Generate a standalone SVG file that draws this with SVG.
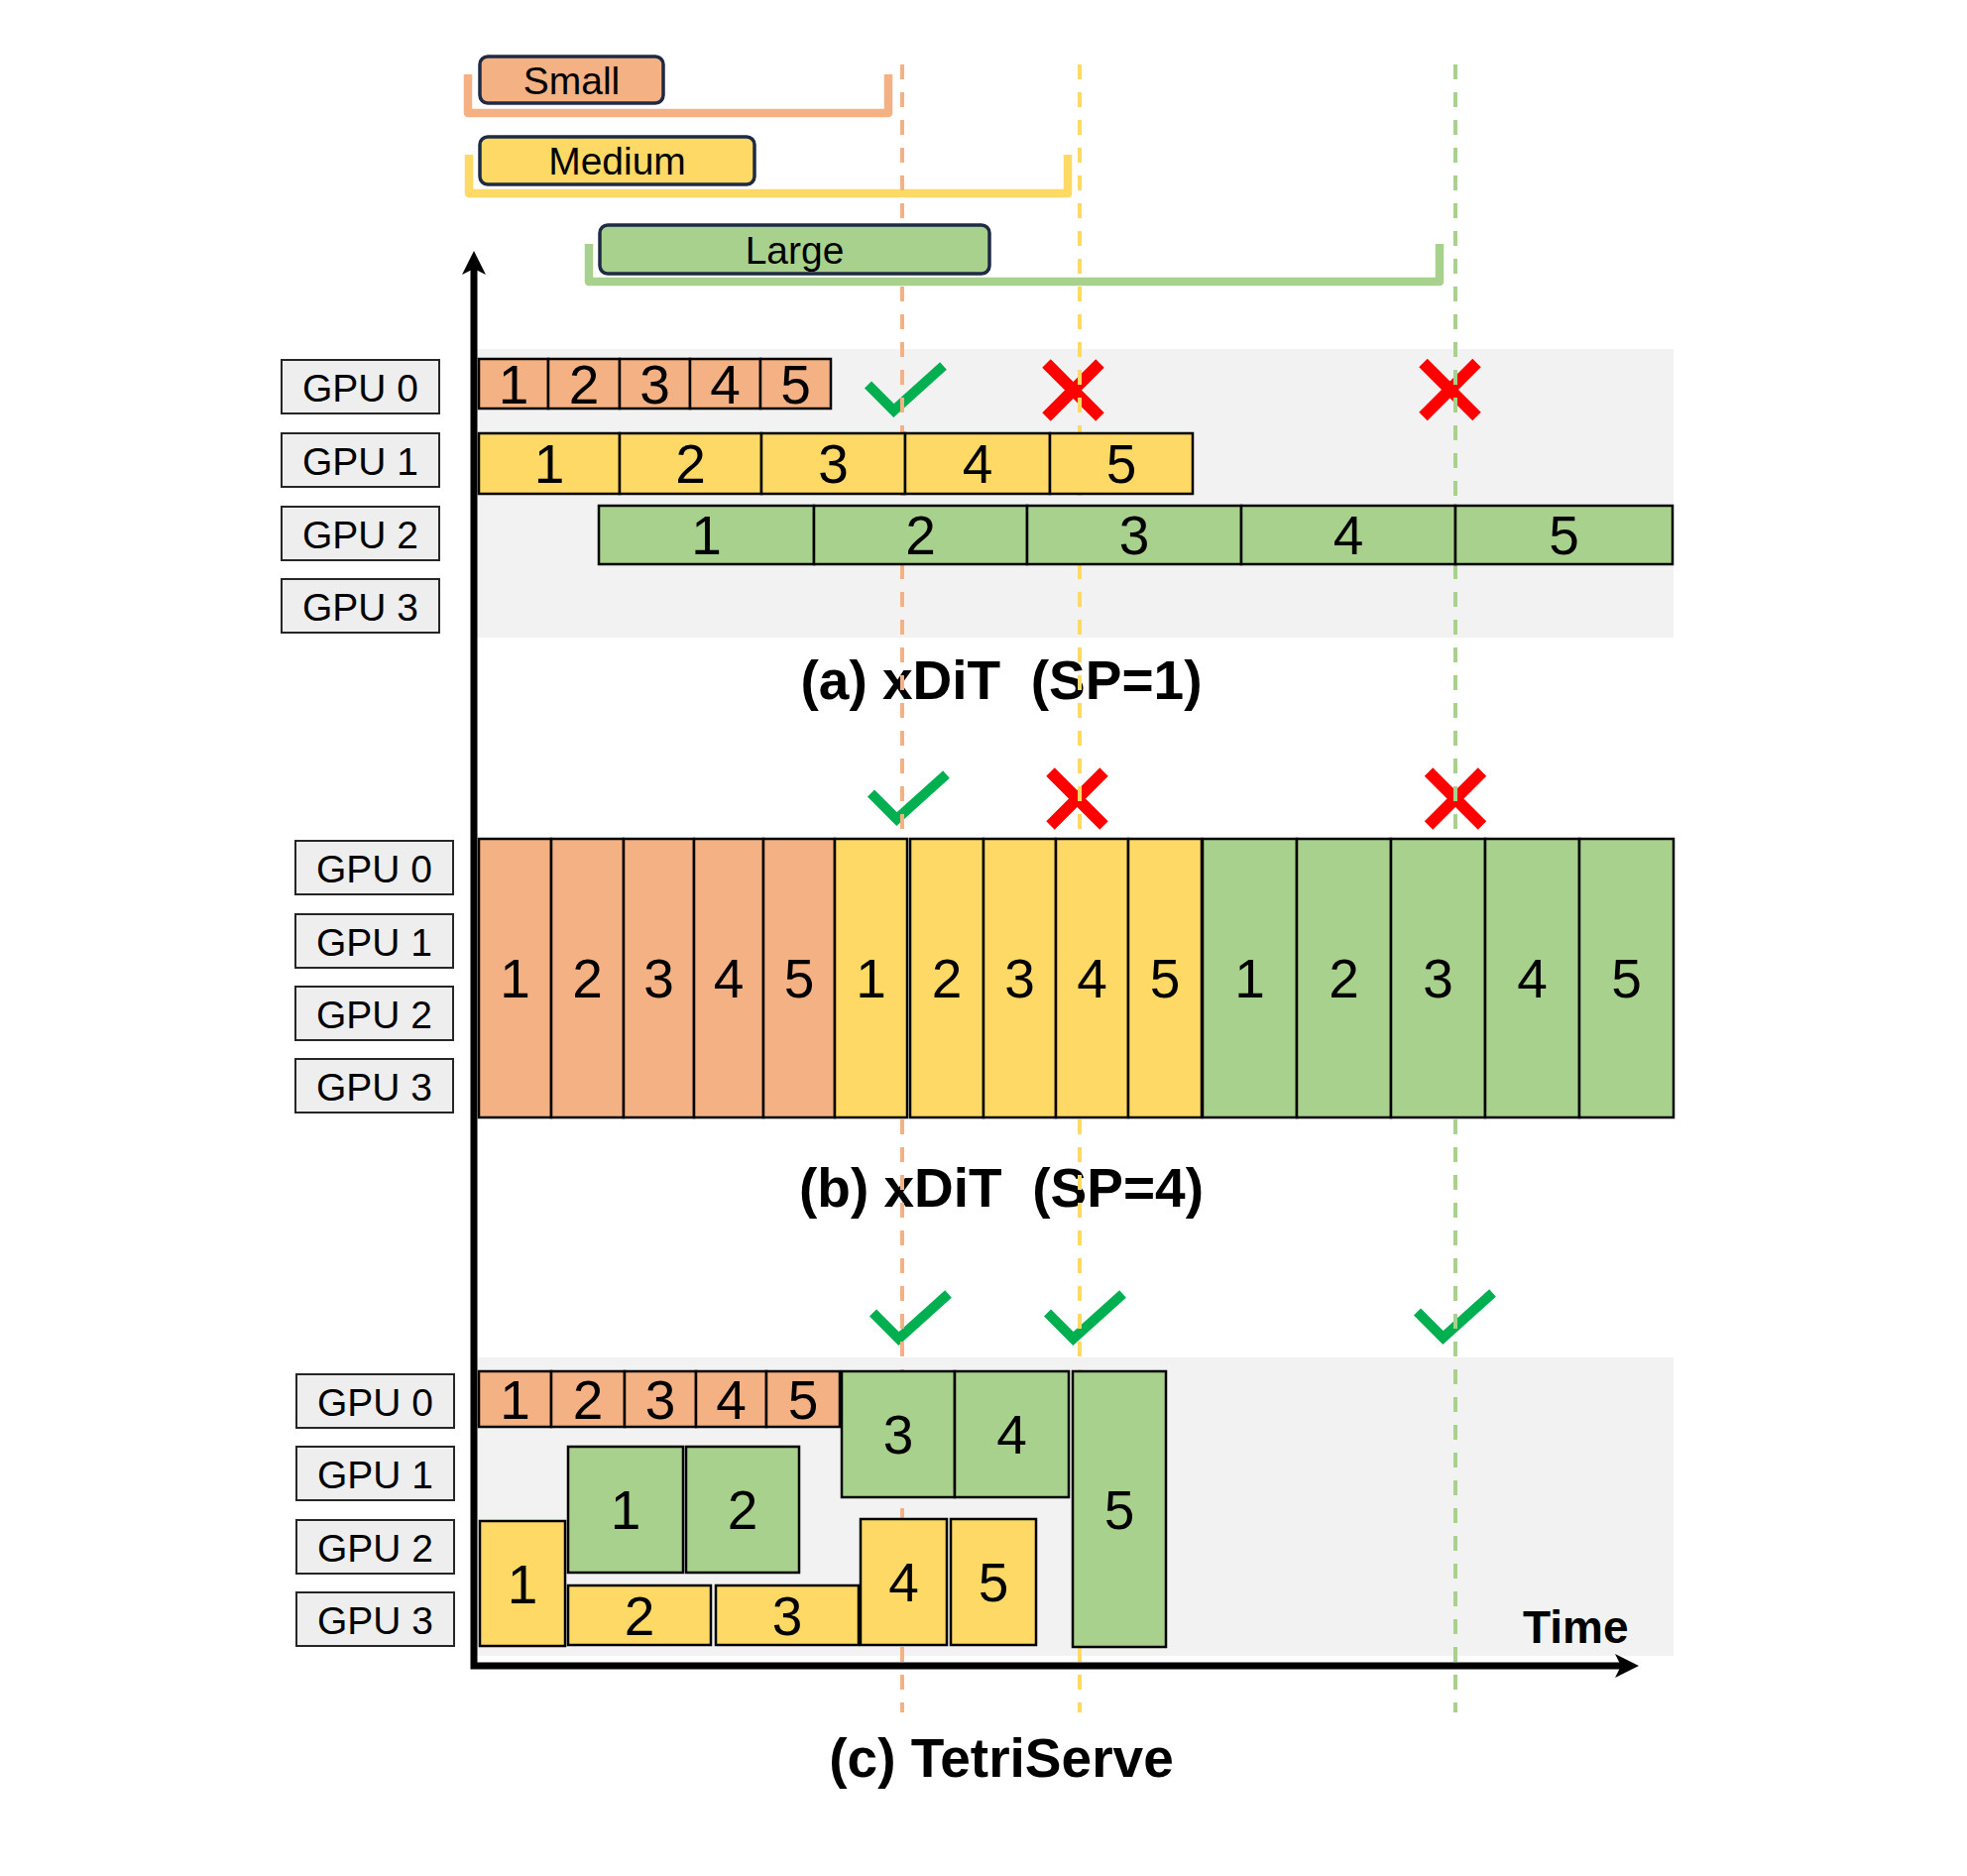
<svg xmlns="http://www.w3.org/2000/svg" width="1984" height="1892" viewBox="0 0 1984 1892">
<defs>
<style>
text { font-family: "Liberation Sans", Arial, sans-serif; fill:#000; }
.bg { fill:#F2F2F2; }
.gpu rect { fill:#EEEEEE; stroke:#262626; stroke-width:2; }
.gpu text { font-size:39px; text-anchor:middle; }
.o { fill:#F4B183; } .y { fill:#FFD966; } .g { fill:#A9D18E; }
.blk rect { stroke:#000; stroke-width:2.5; }
.blk text { font-size:55px; text-anchor:middle; }
.tag rect { stroke:#1F2A44; stroke-width:3.5; }
.tag text { font-size:39px; text-anchor:middle; }
.title { font-size:55px; font-weight:bold; text-anchor:middle; white-space:pre; }
.time { font-size:46px; font-weight:bold; }
.brk { fill:none; stroke-width:8.5; stroke-linejoin:round; }
.dash { fill:none; stroke-width:4; stroke-dasharray:15 13; }
.chk { fill:none; stroke:#00B050; stroke-width:10; stroke-linejoin:miter; }
.xm { fill:none; stroke:#FF0000; stroke-width:12; }
.axis { fill:none; stroke:#000; stroke-width:7; stroke-linejoin:miter; }
</style>
<path id="check" class="chk" d="M0,0 l26,26 l50,-45"/>
<path id="cross" class="xm" d="M-27,-27 L27,27 M-27,27 L27,-27"/>
<marker id="ah" viewBox="0 0 24 24" refX="11" refY="12" markerWidth="24" markerHeight="24" markerUnits="userSpaceOnUse" orient="auto-start-reverse">
<path d="M0,0 L24,12 L0,24 L6,12 z" fill="#000"/>
</marker>
</defs>
<rect width="1984" height="1892" fill="#fff"/>

<!-- backgrounds -->
<rect class="bg" x="478" y="352" width="1210" height="291"/>
<rect class="bg" x="478" y="1369" width="1210" height="301"/>

<!-- brackets -->
<g id="brackets">
<path class="brk" stroke="#F4B183" d="M472,75 L472,114 L896,114 L896,75"/>
<path class="brk" stroke="#FFD966" d="M473,156 L473,195 L1077,195 L1077,156"/>
<path class="brk" stroke="#A9D18E" d="M594,246 L594,284 L1452,284 L1452,246"/>
</g>

<!-- marks -->
<g id="marks">
<use href="#check" x="875.5" y="388"/>
<use href="#cross" x="1082.5" y="393.5"/>
<use href="#cross" x="1462.5" y="393"/>
<use href="#check" x="878.5" y="800"/>
<use href="#cross" x="1086.5" y="805.5"/>
<use href="#cross" x="1468" y="805.5"/>
<use href="#check" x="880.5" y="1324"/>
<use href="#check" x="1056.5" y="1324"/>
<use href="#check" x="1429.5" y="1323"/>
</g>

<!-- titles -->
<text class="title" x="1010" y="705" xml:space="preserve">(a) xDiT  (SP=1)</text>
<text class="title" x="1010" y="1217" xml:space="preserve">(b) xDiT  (SP=4)</text>
<text class="title" x="1010" y="1792">(c) TetriServe</text>
<text class="time" x="1536" y="1657">Time</text>

<!-- connectors -->
<g id="connectors">
<path class="dash" stroke="#F4B183" d="M910,65 L910,1727"/>
<path class="dash" stroke="#FFD966" d="M1089,65 L1089,1727"/>
<path class="dash" stroke="#A9D18E" d="M1468,65 L1468,1727"/>
<path class="axis" d="M478,266 L478,1680 L1640,1680" marker-start="url(#ah)" marker-end="url(#ah)"/>
</g>

<!-- size tags -->
<g id="tag-small" class="tag"><rect class="o" x="484" y="57" width="185" height="47" rx="8"/><text x="576.5" y="95">Small</text></g>
<g id="tag-medium" class="tag"><rect class="y" x="484" y="138" width="277" height="48" rx="8"/><text x="622.5" y="176">Medium</text></g>
<g id="tag-large" class="tag"><rect class="g" x="605" y="227" width="393" height="49" rx="8"/><text x="801.5" y="266">Large</text></g>

<!-- (a) GPU labels -->
<g id="a-gpu0" class="gpu"><rect x="284" y="363" width="159" height="54"/><text x="363.5" y="404.5">GPU 0</text></g>
<g id="a-gpu1" class="gpu"><rect x="284" y="437" width="159" height="54"/><text x="363.5" y="478.5">GPU 1</text></g>
<g id="a-gpu2" class="gpu"><rect x="284" y="511" width="159" height="54"/><text x="363.5" y="552.5">GPU 2</text></g>
<g id="a-gpu3" class="gpu"><rect x="284" y="584" width="159" height="54"/><text x="363.5" y="625.5">GPU 3</text></g>

<!-- (a) blocks -->
<g id="a-small" class="blk">
<rect class="o" x="483" y="362" width="70" height="50"/><text x="518" y="407">1</text>
<rect class="o" x="553" y="362" width="72" height="50"/><text x="589" y="407">2</text>
<rect class="o" x="625" y="362" width="71" height="50"/><text x="660.5" y="407">3</text>
<rect class="o" x="696" y="362" width="71" height="50"/><text x="731.5" y="407">4</text>
<rect class="o" x="767" y="362" width="71" height="50"/><text x="802.5" y="407">5</text>
</g>
<g id="a-medium" class="blk">
<rect class="y" x="483" y="437" width="142" height="61"/><text x="554" y="487">1</text>
<rect class="y" x="625" y="437" width="143" height="61"/><text x="696.5" y="487">2</text>
<rect class="y" x="768" y="437" width="145" height="61"/><text x="840.5" y="487">3</text>
<rect class="y" x="913" y="437" width="146" height="61"/><text x="986" y="487">4</text>
<rect class="y" x="1059" y="437" width="144" height="61"/><text x="1131" y="487">5</text>
</g>
<g id="a-large" class="blk">
<rect class="g" x="604" y="510" width="217" height="59"/><text x="712.5" y="559">1</text>
<rect class="g" x="821" y="510" width="215" height="59"/><text x="928.5" y="559">2</text>
<rect class="g" x="1036" y="510" width="216" height="59"/><text x="1144" y="559">3</text>
<rect class="g" x="1252" y="510" width="216" height="59"/><text x="1360" y="559">4</text>
<rect class="g" x="1468" y="510" width="219" height="59"/><text x="1577.5" y="559">5</text>
</g>

<!-- (b) GPU labels -->
<g id="b-gpu0" class="gpu"><rect x="298" y="848" width="159" height="54"/><text x="377.5" y="889.5">GPU 0</text></g>
<g id="b-gpu1" class="gpu"><rect x="298" y="922" width="159" height="54"/><text x="377.5" y="963.5">GPU 1</text></g>
<g id="b-gpu2" class="gpu"><rect x="298" y="995" width="159" height="54"/><text x="377.5" y="1036.5">GPU 2</text></g>
<g id="b-gpu3" class="gpu"><rect x="298" y="1068" width="159" height="54"/><text x="377.5" y="1109.5">GPU 3</text></g>

<!-- (b) blocks -->
<g id="b-small" class="blk">
<rect class="o" x="483" y="846" width="73" height="281"/><text x="519.5" y="1006">1</text>
<rect class="o" x="556" y="846" width="73" height="281"/><text x="592.5" y="1006">2</text>
<rect class="o" x="629" y="846" width="71" height="281"/><text x="664.5" y="1006">3</text>
<rect class="o" x="700" y="846" width="70" height="281"/><text x="735" y="1006">4</text>
<rect class="o" x="770" y="846" width="72" height="281"/><text x="806" y="1006">5</text>
</g>
<g id="b-medium" class="blk">
<rect class="y" x="842" y="846" width="73" height="281"/><text x="878.5" y="1006">1</text>
<rect class="y" x="918" y="846" width="74" height="281"/><text x="955" y="1006">2</text>
<rect class="y" x="992" y="846" width="73" height="281"/><text x="1028.5" y="1006">3</text>
<rect class="y" x="1065" y="846" width="73" height="281"/><text x="1101.5" y="1006">4</text>
<rect class="y" x="1138" y="846" width="74" height="281"/><text x="1175" y="1006">5</text>
</g>
<g id="b-large" class="blk">
<rect class="g" x="1213" y="846" width="95" height="281"/><text x="1260.5" y="1006">1</text>
<rect class="g" x="1308" y="846" width="95" height="281"/><text x="1355.5" y="1006">2</text>
<rect class="g" x="1403" y="846" width="95" height="281"/><text x="1450.5" y="1006">3</text>
<rect class="g" x="1498" y="846" width="95" height="281"/><text x="1545.5" y="1006">4</text>
<rect class="g" x="1593" y="846" width="95" height="281"/><text x="1640.5" y="1006">5</text>
</g>

<!-- (c) GPU labels -->
<g id="c-gpu0" class="gpu"><rect x="299" y="1386" width="159" height="54"/><text x="378.5" y="1427.5">GPU 0</text></g>
<g id="c-gpu1" class="gpu"><rect x="299" y="1459" width="159" height="54"/><text x="378.5" y="1500.5">GPU 1</text></g>
<g id="c-gpu2" class="gpu"><rect x="299" y="1533" width="159" height="54"/><text x="378.5" y="1574.5">GPU 2</text></g>
<g id="c-gpu3" class="gpu"><rect x="299" y="1606" width="159" height="54"/><text x="378.5" y="1647.5">GPU 3</text></g>

<!-- (c) blocks -->
<g id="c-small" class="blk">
<rect class="o" x="483" y="1383" width="73" height="56"/><text x="519.5" y="1430.5">1</text>
<rect class="o" x="556" y="1383" width="74" height="56"/><text x="593" y="1430.5">2</text>
<rect class="o" x="630" y="1383" width="72" height="56"/><text x="666" y="1430.5">3</text>
<rect class="o" x="702" y="1383" width="71" height="56"/><text x="737.5" y="1430.5">4</text>
<rect class="o" x="773" y="1383" width="74" height="56"/><text x="810" y="1430.5">5</text>
</g>
<g id="c-medium" class="blk">
<rect class="y" x="484" y="1534" width="86" height="126"/><text x="527" y="1616.5">1</text>
<rect class="y" x="573" y="1599" width="144" height="60"/><text x="645" y="1648.5">2</text>
<rect class="y" x="722" y="1599" width="144" height="60"/><text x="794" y="1648.5">3</text>
<rect class="y" x="868" y="1532" width="87" height="127"/><text x="911.5" y="1615">4</text>
<rect class="y" x="959" y="1532" width="86" height="127"/><text x="1002" y="1615">5</text>
</g>
<g id="c-large" class="blk">
<rect class="g" x="573" y="1459" width="116" height="127"/><text x="631" y="1542">1</text>
<rect class="g" x="692" y="1459" width="114" height="127"/><text x="749" y="1542">2</text>
<rect class="g" x="849" y="1383" width="114" height="127"/><text x="906" y="1466">3</text>
<rect class="g" x="963" y="1383" width="115" height="127"/><text x="1020.5" y="1466">4</text>
<rect class="g" x="1082" y="1383" width="94" height="278"/><text x="1129" y="1541.7">5</text>
</g>
</svg>
